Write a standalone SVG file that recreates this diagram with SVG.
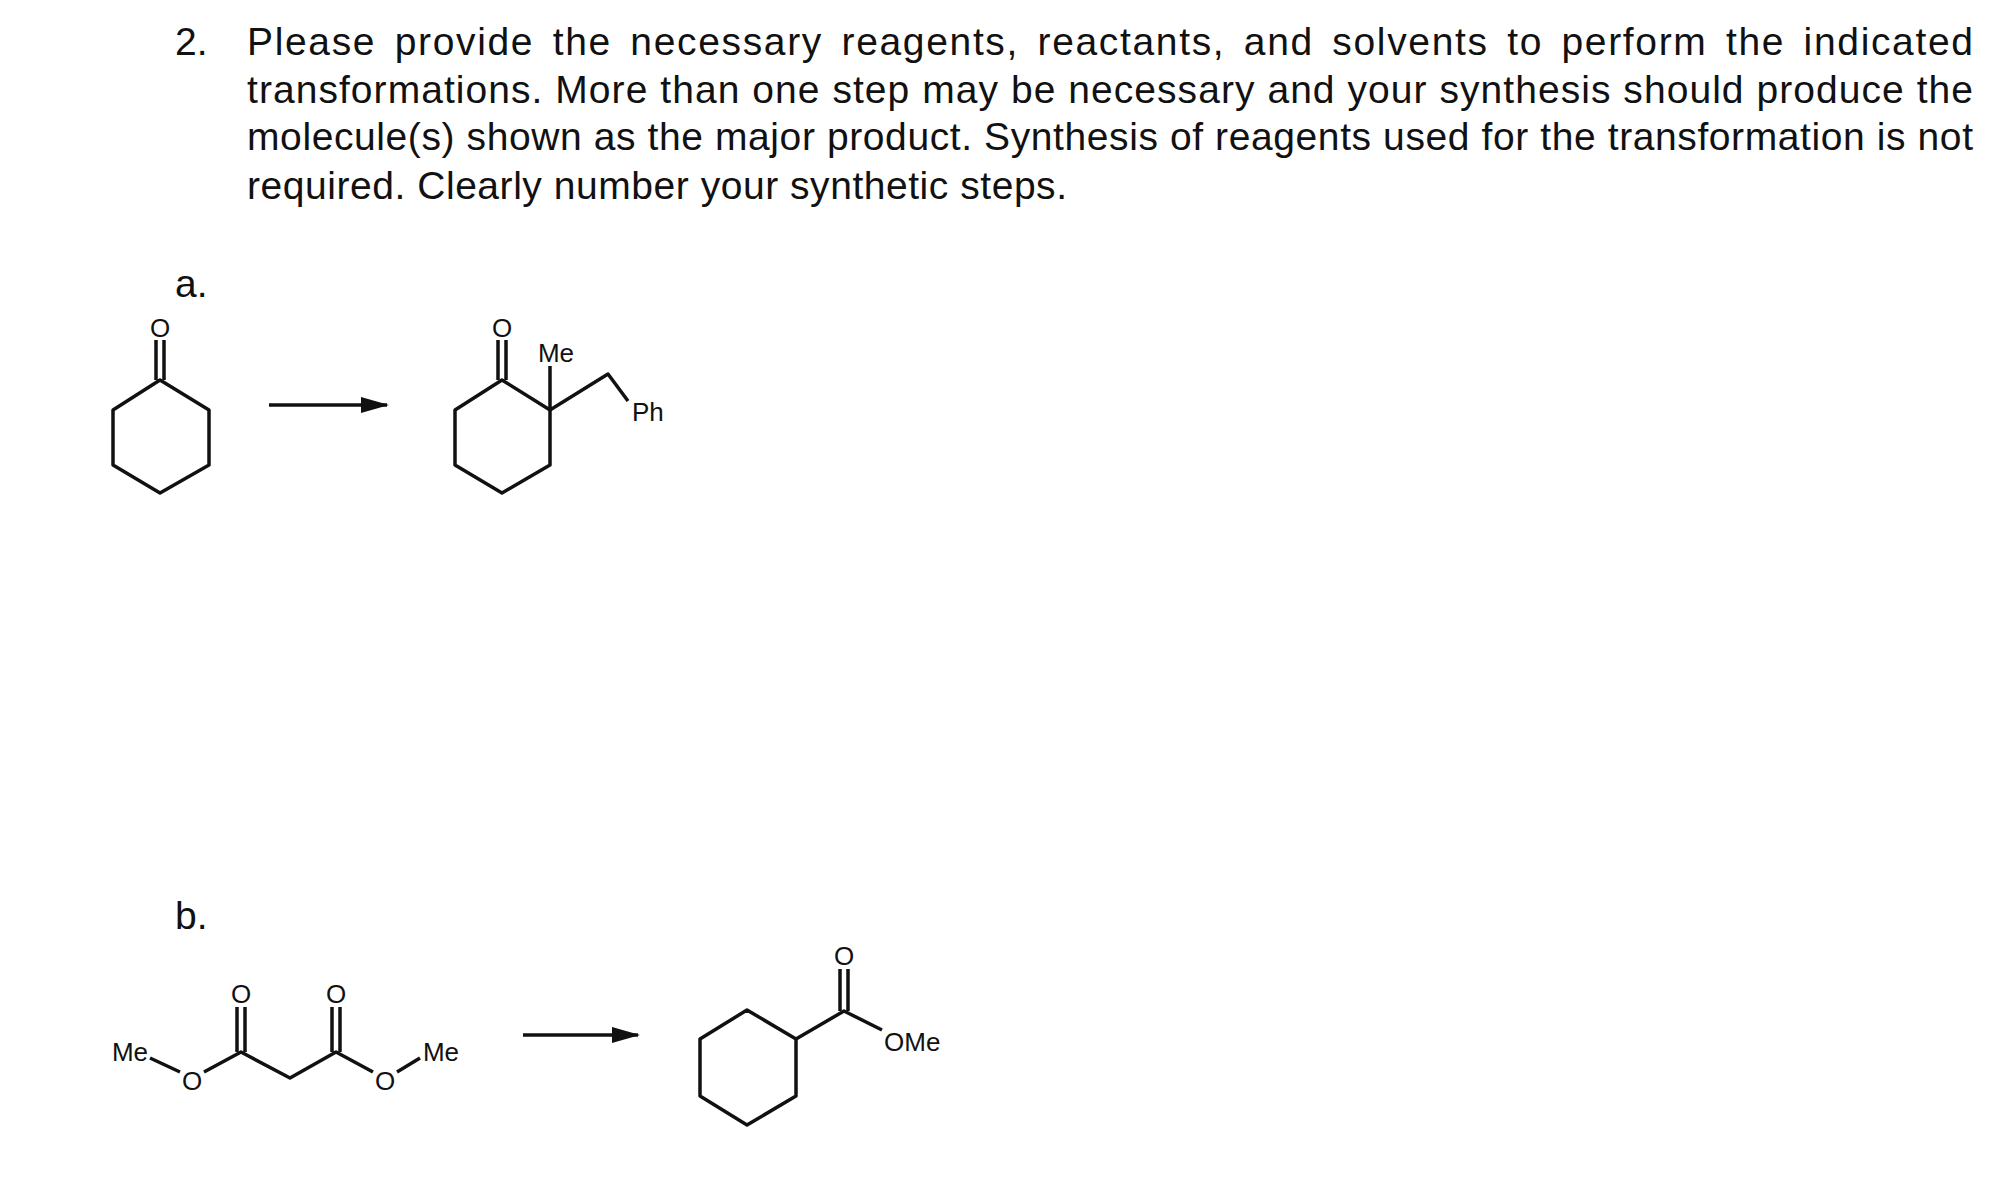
<svg xmlns="http://www.w3.org/2000/svg" width="1998" height="1190" viewBox="0 0 1998 1190">
<style>
.t{font-family:"Liberation Sans",Arial,sans-serif;font-size:39px;fill:#111}
.l{font-family:"Liberation Sans",Arial,sans-serif;font-size:26px;fill:#111}
.b{fill:none;stroke:#111;stroke-width:3.5;stroke-linejoin:round}
</style>
<defs><marker id="ah" markerWidth="28" markerHeight="16" refX="26" refY="8" orient="auto" markerUnits="userSpaceOnUse" viewBox="0 0 28 16"><path d="M0,0 L28,8 L0,16z" fill="#111"/></marker></defs>
<rect width="1998" height="1190" fill="#fff"/>
<g id="question">
<text class="t" x="175" y="55">2.</text>
<text class="t" x="247" y="55" textLength="1726" lengthAdjust="spacing" word-spacing="6">Please provide the necessary reagents, reactants, and solvents to perform the indicated</text>
<text class="t" x="247" y="103" textLength="1726" lengthAdjust="spacing">transformations. More than one step may be necessary and your synthesis should produce the</text>
<text class="t" x="247" y="150" textLength="1726" lengthAdjust="spacing">molecule(s) shown as the major product. Synthesis of reagents used for the transformation is not</text>
<text class="t" x="247" y="199" textLength="820" lengthAdjust="spacing">required. Clearly number your synthetic steps.</text>
<text class="t" x="175" y="297">a.</text>
<text class="t" x="175" y="929">b.</text>
</g>
<g id="cyclohexanone">
<path class="b" d="M160,380 L209,410 L209,465 L160,493 L113,465 L113,410 Z"/>
<path class="b" d="M156,380 V340 M164,380 V340"/>
<text class="l" x="160" y="337" text-anchor="middle">O</text>
</g>
<g id="product-a">
<path class="b" d="M502,380 L550,410 L550,465 L502,493 L455,465 L455,410 Z"/>
<path class="b" d="M498,380 V340 M506,380 V340"/>
<text class="l" x="502" y="337" text-anchor="middle">O</text>
<path class="b" d="M550,410 V366 M550,410 L608,374 L628,401"/>
<text class="l" x="556" y="362" text-anchor="middle">Me</text>
<text class="l" x="632" y="421">Ph</text>
</g>
<g id="malonate">
<path class="b" d="M150,1058 L180,1072 M204,1072 L241,1052 L290,1078 L336,1052 L373,1072 M397,1072 L420,1058"/>
<path class="b" d="M237,1052 V1007 M245,1052 V1007 M332,1052 V1007 M340,1052 V1007"/>
<text class="l" x="130" y="1061" text-anchor="middle">Me</text>
<text class="l" x="192" y="1090" text-anchor="middle">O</text>
<text class="l" x="385" y="1090" text-anchor="middle">O</text>
<text class="l" x="441" y="1061" text-anchor="middle">Me</text>
<text class="l" x="241" y="1003" text-anchor="middle">O</text>
<text class="l" x="336" y="1003" text-anchor="middle">O</text>
</g>
<g id="product-b">
<path class="b" d="M747,1010 L796,1039 L796,1096 L747,1125 L700,1096 L700,1039 Z"/>
<path class="b" d="M796,1039 L844,1011 L882,1030"/>
<path class="b" d="M840,1011 V969 M848,1011 V969"/>
<text class="l" x="844" y="965" text-anchor="middle">O</text>
<text class="l" x="884" y="1051">OMe</text>
</g>
<g id="connectors">
<line class="b" x1="269" y1="405" x2="387" y2="405" marker-end="url(#ah)"/>
<line class="b" x1="523" y1="1035" x2="638" y2="1035" marker-end="url(#ah)"/>
</g>
</svg>
